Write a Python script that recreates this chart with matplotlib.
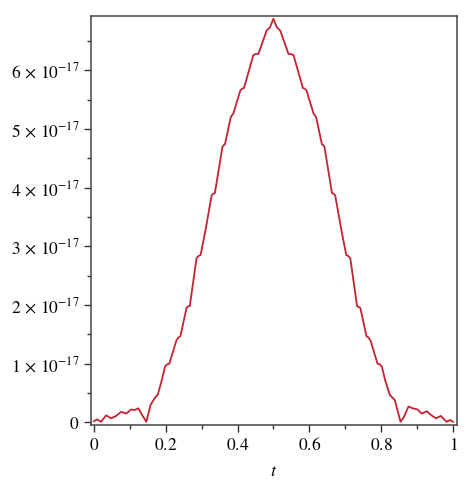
import numpy as np
import matplotlib.pyplot as plt
from matplotlib.ticker import FuncFormatter, MultipleLocator

# values (y in units of 1e-17)
t = [0.000, 0.009, 0.020, 0.034, 0.048, 0.062, 0.076, 0.090, 0.104, 0.113,
     0.124, 0.132, 0.146, 0.158, 0.169, 0.178, 0.189, 0.198, 0.204, 0.210,
     0.230, 0.236, 0.241, 0.258, 0.263, 0.267, 0.286, 0.292, 0.297, 0.310,
     0.328, 0.333, 0.337, 0.358, 0.362, 0.365, 0.381, 0.385, 0.388, 0.408,
     0.413, 0.418, 0.444, 0.451, 0.458, 0.481, 0.486, 0.490, 0.500, 0.510,
     0.514, 0.519, 0.542, 0.549, 0.556, 0.582, 0.587, 0.592, 0.612, 0.615,
     0.619, 0.635, 0.638, 0.642, 0.663, 0.667, 0.672, 0.690, 0.703, 0.708,
     0.714, 0.733, 0.737, 0.742, 0.759, 0.764, 0.770, 0.790, 0.796, 0.802,
     0.811, 0.824, 0.838, 0.854, 0.864, 0.876, 0.888, 0.901, 0.913, 0.927,
     0.940, 0.953, 0.966, 0.982, 0.992, 1.000]
y = [0.02, 0.05, 0.01, 0.12, 0.07, 0.11, 0.18, 0.15, 0.22, 0.21,
     0.24, 0.15, 0.01, 0.30, 0.41, 0.47, 0.72, 0.95, 0.99, 1.00,
     1.40, 1.45, 1.47, 1.95, 1.98, 1.98, 2.80, 2.84, 2.85, 3.25,
     3.87, 3.90, 3.91, 4.70, 4.73, 4.74, 5.20, 5.24, 5.26, 5.66,
     5.69, 5.70, 6.26, 6.28, 6.28, 6.68, 6.71, 6.73, 6.88, 6.73,
     6.71, 6.68, 6.28, 6.28, 6.26, 5.70, 5.69, 5.66, 5.26, 5.24,
     5.20, 4.74, 4.73, 4.70, 3.91, 3.90, 3.87, 3.25, 2.85, 2.84,
     2.80, 1.98, 1.97, 1.95, 1.47, 1.45, 1.40, 1.00, 0.99, 0.95,
     0.72, 0.47, 0.38, 0.01, 0.10, 0.27, 0.24, 0.22, 0.15, 0.19,
     0.12, 0.07, 0.11, 0.01, 0.04, 0.01]
y = np.array(y) * 1e-17

plt.rcParams['font.family'] = 'DejaVu Serif'
plt.rcParams['mathtext.fontset'] = 'stix'

fig = plt.figure(figsize=(4.74, 4.96), dpi=100)
ax = fig.add_axes([0.192, 0.143, 0.772, 0.825])
ax.plot(t, y, color='#c42332', lw=1.3)

ax.set_xlim(-0.008, 1.011)
ax.set_ylim(-0.046e-17, 6.93e-17)
ax.xaxis.set_major_locator(MultipleLocator(0.2))
ax.xaxis.set_minor_locator(MultipleLocator(0.1))
ax.yaxis.set_major_locator(MultipleLocator(1e-17))
ax.yaxis.set_minor_locator(MultipleLocator(0.5e-17))

def xfmt(v, pos):
    if abs(v) < 1e-9:
        return '$0$'
    if abs(v - 1) < 1e-9:
        return '$1$'
    return '$%.1f$' % v

def yfmt(v, pos):
    n = int(round(v / 1e-17))
    if n == 0:
        return '$0$'
    return r'$%d\,\times\,10^{-17}$' % n

ax.xaxis.set_major_formatter(FuncFormatter(xfmt))
ax.yaxis.set_major_formatter(FuncFormatter(yfmt))
ax.tick_params(which='major', length=5, width=1, color='#333333', labelsize=12.5)
ax.tick_params(which='minor', length=3, width=1, color='#333333')
for s in ax.spines.values():
    s.set_color('#444444')
    s.set_linewidth(1.1)

ax.set_xlabel('$t$', fontsize=13, labelpad=6)

plt.savefig('out.png')
